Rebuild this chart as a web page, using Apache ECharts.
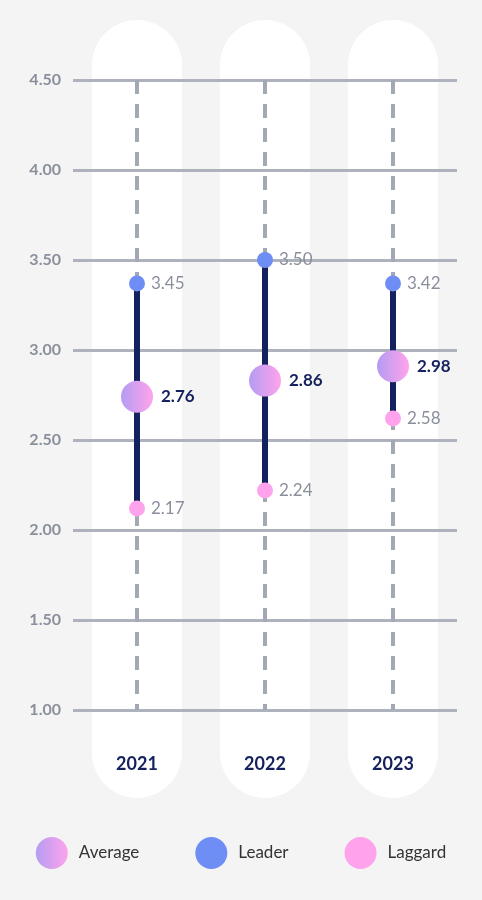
<!DOCTYPE html><html><head><meta charset="utf-8"><script src="https://cdn.jsdelivr.net/npm/echarts@6/dist/echarts.min.js"></script>
<style>body{margin:0;background:#f4f4f4}#c{width:482px;height:900px}</style></head><body><div id="c"></div><script>
const years=['2021','2022','2023'];
const leader=[3.37,3.50,3.37], leaderTxt=['3.45','3.50','3.42'];
const average=[2.74,2.83,2.91], averageTxt=['2.76','2.86','2.98'];
const laggard=[2.12,2.22,2.62], laggardTxt=['2.17','2.24','2.58'];
const yTicks=[1,1.5,2,2.5,3,3.5,4,4.5];
const grey='#8a8f9c', navy='#14215e';
const grad=new echarts.graphic.LinearGradient(0,0,1,0,[{offset:0,color:'#b49cf2'},{offset:1,color:'#ffa3ec'}]);
const ch=echarts.init(document.getElementById('c'));
const ff='Lato';
function lab(arr,bold,col){return {show:true,position:'right',distance:bold?8:6,formatter:p=>arr[p.dataIndex],color:col,fontSize:17,fontWeight:bold?'bold':'normal',fontFamily:ff};}
ch.setOption({backgroundColor:'#f4f4f4',animation:false,
grid:{left:73,right:25,top:80,bottom:190},
xAxis:{type:'category',data:years,axisLine:{show:false},axisTick:{show:false},axisLabel:{margin:45,color:navy,fontSize:18,fontWeight:'bold',fontFamily:ff}},
yAxis:{type:'value',min:1,max:4.5,interval:0.5,axisLabel:{margin:12,formatter:v=>v.toFixed(2),color:grey,fontSize:16,fontWeight:'bold',fontFamily:ff},splitLine:{lineStyle:{color:'#adb2bc',width:3}},axisLine:{show:false}},
legend:{bottom:26,left:'center',itemWidth:32,itemHeight:32,itemGap:56,icon:'circle',data:['Average','Leader','Laggard'],textStyle:{color:'#333',fontSize:17,fontFamily:ff,padding:[0,0,0,6]}},
series:[
{type:'custom',z:-10,clip:false,silent:true,data:years.map((y,i)=>[i]),renderItem:(p,api)=>{const x=api.coord([api.value(0),1])[0];
return {type:'rect',shape:{x:x-45,y:20,width:90,height:778,r:45},style:{fill:'#ffffff'}};}},
{type:'custom',z:1,clip:false,silent:true,data:years.map((y,i)=>[i]),renderItem:(p,api)=>{const x=api.coord([api.value(0),1])[0];const top=api.coord([0,4.5])[1],bot=api.coord([0,1])[1];
return {type:'line',shape:{x1:x,y1:top,x2:x,y2:bot},style:{stroke:'#a3a9b4',lineWidth:4,lineDash:[14,10]}};}},
{type:'custom',z:2,silent:true,data:years.map((y,i)=>[i,leader[i],laggard[i]]),renderItem:(p,api)=>{const a=api.coord([api.value(0),api.value(1)]),b=api.coord([api.value(0),api.value(2)]);
return {type:'line',shape:{x1:a[0],y1:a[1],x2:b[0],y2:b[1]},style:{stroke:navy,lineWidth:6}};}},
{name:'Leader',type:'scatter',z:3,data:leader,symbolSize:16,itemStyle:{color:'#6f8ef5',opacity:1},label:lab(leaderTxt,false,grey)},
{name:'Laggard',type:'scatter',z:3,data:laggard,symbolSize:16,itemStyle:{color:'#ffa3ec',opacity:1},label:lab(laggardTxt,false,grey)},
{name:'Average',type:'scatter',z:4,data:average,symbolSize:32,itemStyle:{color:grad,opacity:1},label:lab(averageTxt,true,navy)}
]});
</script></body></html>
